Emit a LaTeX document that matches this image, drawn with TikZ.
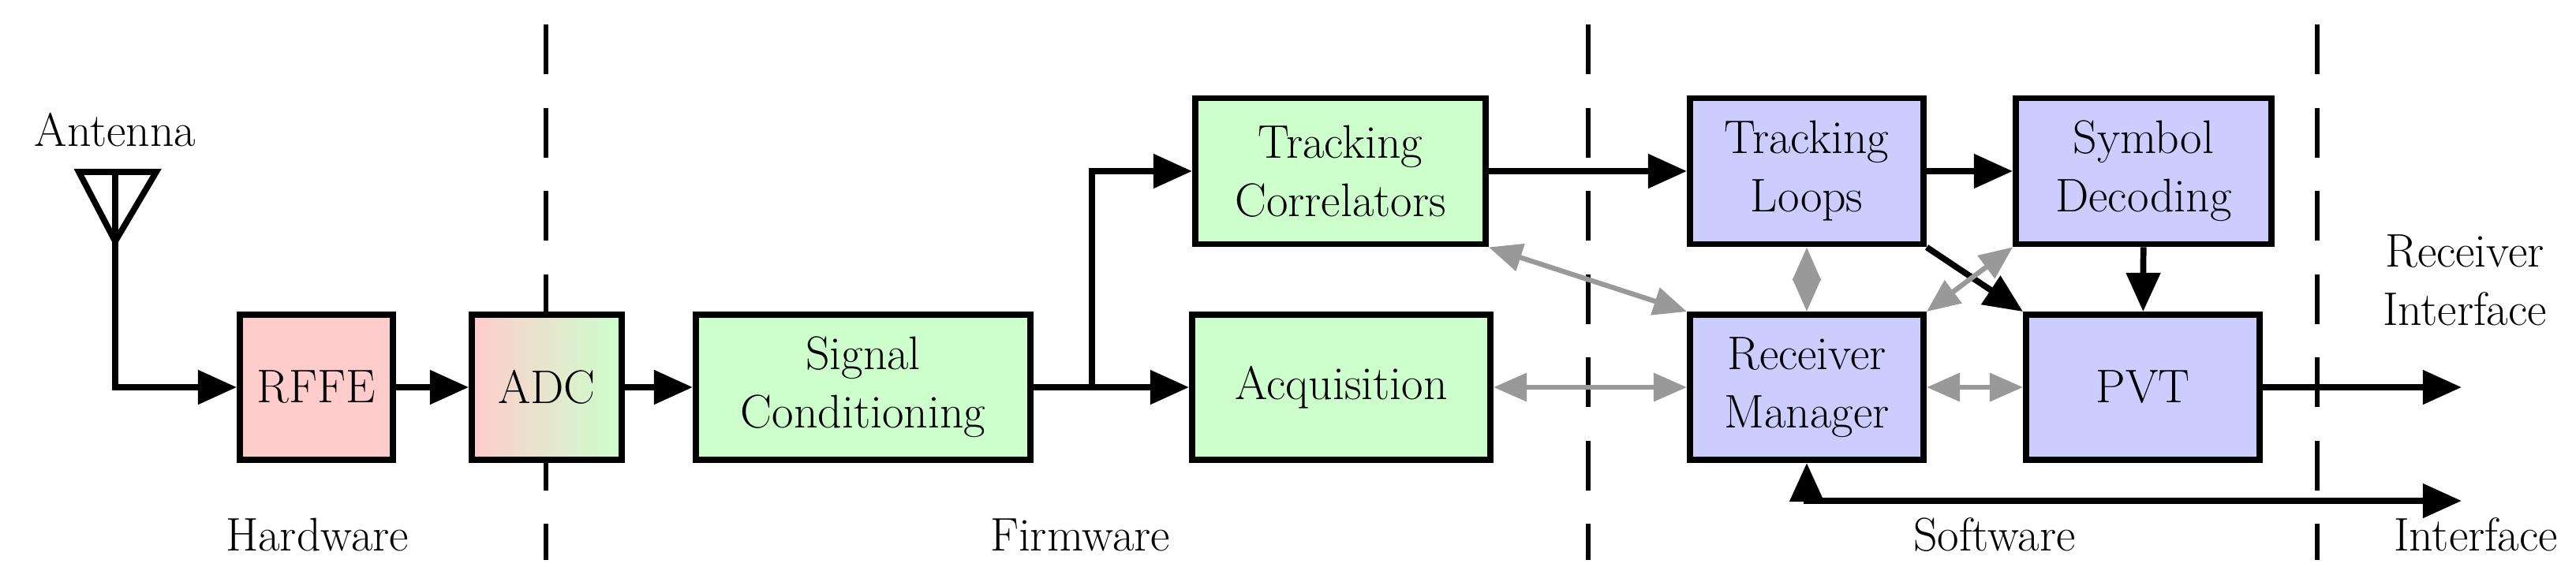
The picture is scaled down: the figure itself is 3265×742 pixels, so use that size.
\documentclass[tikz,border=0pt]{standalone}
\usetikzlibrary{arrows.meta}
\definecolor{rf}{HTML}{FFCCCC}
\definecolor{gf}{HTML}{CCFFCC}
\definecolor{bf}{HTML}{CCCCFF}
\definecolor{gr}{HTML}{999999}
\begin{document}
\begin{tikzpicture}[x=0.01cm,y=-0.01cm,
  box/.style={draw,line width=2.2pt,align=center,font=\fontsize{17}{21}\selectfont,inner sep=0pt},
  lbl/.style={font=\fontsize{17}{21}\selectfont,align=center},
  arr/.style={line width=2.2pt,-{Triangle[length=14pt,width=12pt]}},
  garr/.style={gr,line width=1.8pt,{Triangle[length=12pt,width=10pt]}-{Triangle[length=12pt,width=10pt]}},
  sep/.style={line width=1.6pt,dash pattern=on 18pt off 12pt}]
\useasboundingbox (0,0) rectangle (3265,742);
\coordinate (d1a) at (692,31); \coordinate (d1b) at (692,710);
\coordinate (d2a) at (2013,31); \coordinate (d2b) at (2013,710);
\coordinate (d3a) at (2937,31); \coordinate (d3b) at (2937,710);
\draw[sep] (d1a) -- (d1b);
\draw[sep] (d2a) -- (d2b);
\draw[sep] (d3a) -- (d3b);
\node[box,fill=rf,minimum width=1.94cm,minimum height=1.84cm] (rffe) at (401,491) {RFFE};
\node[box,left color=rf,right color=gf,minimum width=1.90cm,minimum height=1.84cm] (adc) at (693,491) {ADC};
\node[box,fill=gf,minimum width=4.24cm,minimum height=1.84cm] (sc) at (1094,491) {Signal\\Conditioning};
\node[box,fill=gf,minimum width=3.68cm,minimum height=1.85cm] (tc) at (1699,217) {Tracking\\Correlators};
\node[box,fill=gf,minimum width=3.78cm,minimum height=1.84cm] (acq) at (1700,491) {Acquisition};
\node[box,fill=bf,minimum width=2.96cm,minimum height=1.85cm] (tl) at (2290,217) {Tracking\\Loops};
\node[box,fill=bf,minimum width=3.24cm,minimum height=1.85cm] (sd) at (2717,217) {Symbol\\Decoding};
\node[box,fill=bf,minimum width=2.96cm,minimum height=1.84cm] (rm) at (2290,491) {Receiver\\Manager};
\node[box,fill=bf,minimum width=2.96cm,minimum height=1.84cm] (pvt) at (2716,491) {PVT};
\node[lbl] (ant) at (146,165) {Antenna};
\coordinate (a1) at (100,218); \coordinate (a2) at (198,218); \coordinate (a3) at (146,306); \coordinate (a4) at (146,218);
\draw[line width=2.2pt,line join=miter] (a1) -- (a2) -- (a3) -- cycle;
\draw[line width=2.2pt] (a4) -- (a3);
\coordinate (ac) at (146,491);
\draw[arr] (a3) -- (ac) -- (rffe);
\draw[arr] (rffe) -- (adc);
\draw[arr] (adc) -- (sc);
\coordinate (br) at (1384,491);
\coordinate (bt) at (1384,217);
\draw[arr] (sc) -- (acq);
\draw[arr] (br) -- (bt) -- (tc);
\draw[arr] (tc) -- (tl);
\draw[arr] (tl) -- (sd);
\draw[arr] (sd) -- (pvt);
\draw[arr] (tl.south east) -- (pvt.north west);
\draw[garr] (tc.south east) -- (rm.north west);
\draw[garr] (acq) -- (rm);
\draw[garr] (tl) -- (rm);
\draw[garr] (sd.south west) -- (rm.north east);
\draw[garr] (rm) -- (pvt);
\coordinate (o1) at (3120,491);
\draw[arr] (pvt) -- (o1);
\coordinate (ib) at (2290,635); \coordinate (ie) at (3120,635);
\draw[line width=2.2pt,{Triangle[length=14pt,width=12pt]}-{Triangle[length=14pt,width=12pt]}] (rm) -- (ib) -- (ie);
\node[lbl] (ri) at (3124,355) {Receiver\\Interface};
\node[lbl] (ifc) at (3138,678) {Interface};
\node[lbl] (hw) at (402,678) {Hardware};
\node[lbl] (fw) at (1369,678) {Firmware};
\node[lbl] (sw) at (2528,678) {Software};
\end{tikzpicture}
\end{document}
